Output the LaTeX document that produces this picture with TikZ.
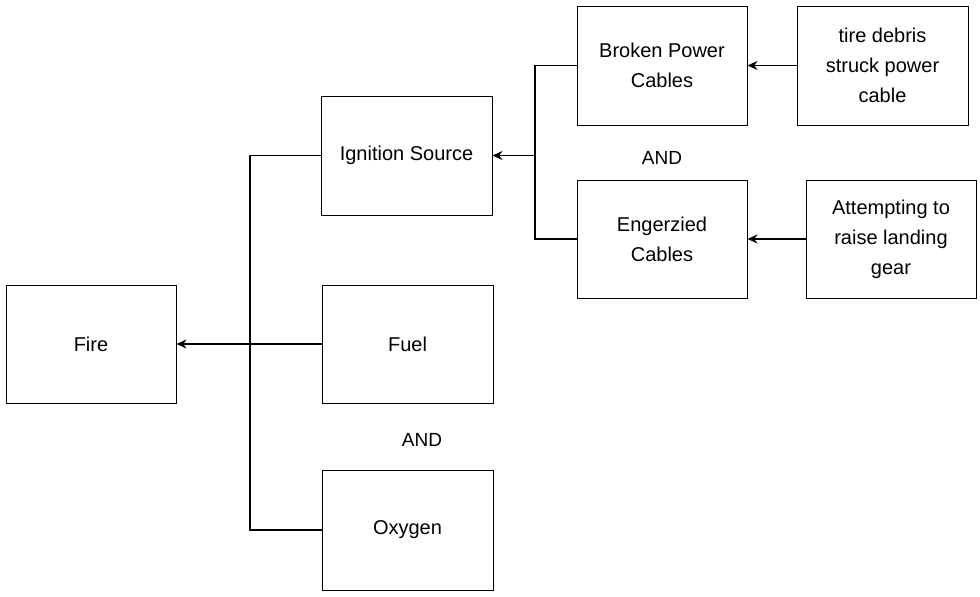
\documentclass[tikz,border=0pt]{standalone}
\usepackage{fontspec}
\setmainfont{Liberation Sans}
\usetikzlibrary{arrows.meta}
\begin{document}
\begin{tikzpicture}[x=1pt,y=-1pt,
  box/.style={draw,line width=1pt,inner sep=0pt,align=center,font=\fontsize{20}{30}\selectfont},
  lbl/.style={font=\fontsize{19}{23}\selectfont},
  ln/.style={line width=1.5pt},
  ar/.style={ln,-{Stealth[length=10pt,width=9pt]}}]
\useasboundingbox (0,0) rectangle (980,597);
\fill[white] (0,0) rectangle (980,597);
\node[box,minimum width=170pt,minimum height=118pt] (fire) at (91,344) {Fire};
\node[box,minimum width=171pt,minimum height=119pt] (ign) at (406.5,155.5) {Ignition Source};
\node[box,minimum width=171pt,minimum height=118pt] (fuel) at (407.5,344) {Fuel};
\node[box,minimum width=171pt,minimum height=120pt] (oxy) at (407.5,530) {Oxygen};
\node[box,minimum width=170pt,minimum height=119pt] (bpc) at (662,65.5) {Broken Power\\Cables};
\node[box,minimum width=170pt,minimum height=118pt] (ec) at (662,239) {Engerzied\\Cables};
\node[box,minimum width=171pt,minimum height=119pt] (td) at (882.5,65.5) {tire debris\\struck power\\cable};
\node[box,minimum width=170pt,minimum height=118pt] (att) at (891,239) {Attempting to\\raise landing\\gear};
\node[lbl] (and1) at (422,440) {AND};
\node[lbl] (and2) at (662,158) {AND};
\coordinate (j1) at (250,344);
\coordinate (j2) at (535,155.5);
\draw[ln] (ign.west) -| (j1) |- (oxy.west);
\draw[ln] (fuel.west) -- (j1);
\draw[ar] (j1) -- (fire.east);
\draw[ln] (bpc.west) -| (j2) |- (ec.west);
\draw[ar] (j2) -- (ign.east);
\draw[ar] (td.west) -- (bpc.east);
\draw[ar] (att.west) -- (ec.east);
\end{tikzpicture}
\end{document}
